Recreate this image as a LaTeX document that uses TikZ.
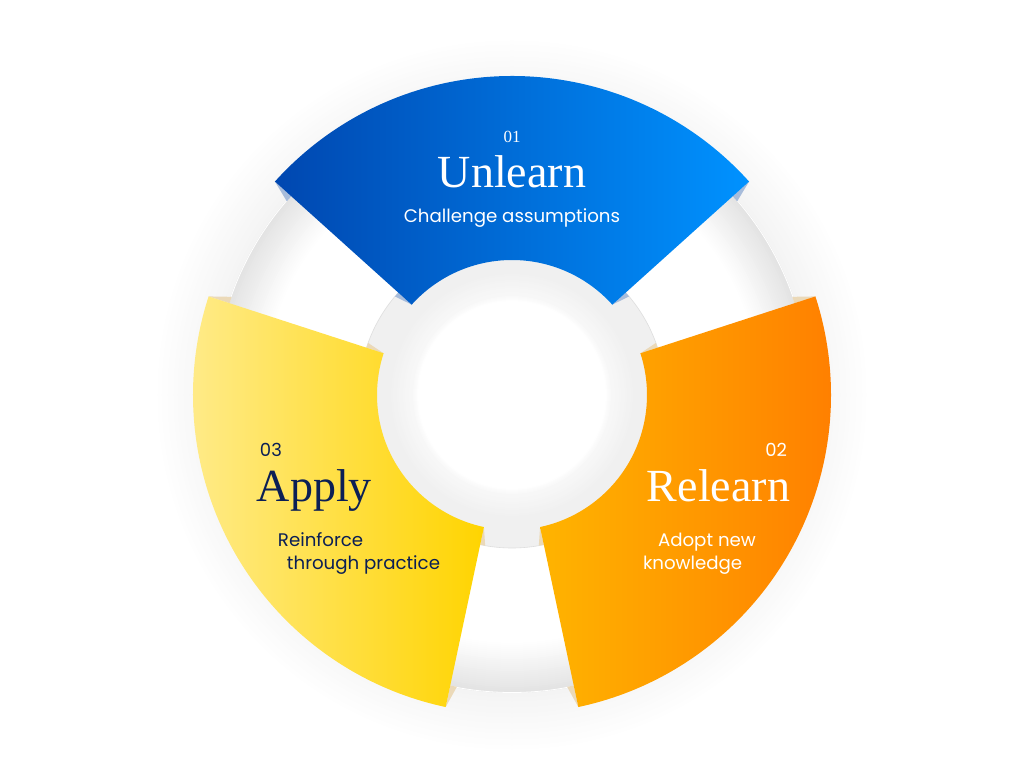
\documentclass[tikz,border=0pt]{standalone}
\usepackage{fontspec}
\setmainfont{Liberation Serif}
\newfontfamily\sansf{Poppins}
\newfontfamily\seriff{Liberation Serif}
\definecolor{blueL}{HTML}{0047B0}
\definecolor{blueR}{HTML}{0092FF}
\definecolor{orL}{HTML}{FFB400}
\definecolor{orR}{HTML}{FF7F00}
\definecolor{yeL}{HTML}{FFEC90}
\definecolor{yeR}{HTML}{FFD400}
\definecolor{navy}{HTML}{0B1F55}
\definecolor{bsliver}{HTML}{A7BCDB}
\definecolor{ysliver}{HTML}{EBD9B8}
\tikzset{
  lbl/.style={inner sep=0pt, outer sep=0pt},
  numtxt/.style={lbl, font=\sansf\fontsize{18}{18}\selectfont},
  titletxt/.style={lbl, font=\seriff\fontsize{46}{46}\selectfont},
  subtxt/.style={lbl, font=\sansf\fontsize{18.2}{18.2}\selectfont},
}
\newcommand{\segpath}[2]{(#1:319) arc[start angle=#1, end angle=#2, radius=319] -- (#2:135) arc[start angle=#2, end angle=#1, radius=135] -- cycle}
\newcommand{\slivers}[3]{%
  \fill[#3] (#1:319) -- (#1:297) -- ({#1-1.3}:297) -- cycle;
  \fill[#3] (#2:319) -- (#2:297) -- ({#2+1.3}:297) -- cycle;
  \fill[#3] (#1:135) -- (#1:153) -- ({#1-1.9}:153) -- cycle;
  \fill[#3] (#2:135) -- (#2:153) -- ({#2+1.9}:153) -- cycle;
}
\begin{document}
\begin{tikzpicture}[x=1pt,y=1pt]
\useasboundingbox (-512,-388) rectangle (512,395);
\fill[white] (-512,-388) rectangle (512,395);
% soft halo
\foreach \i in {0,...,29} {
  \pgfmathsetmacro\r{358-2*\i}
  \pgfmathsetmacro\p{\i*0.15}
  \fill[black!\p] (0,0) circle (\r);
}
% band (3D ring piece)
\foreach \i in {0,...,24} {
  \pgfmathsetmacro\r{298-2*\i}
  \pgfmathsetmacro\p{11-\i*0.45}
  \fill[black!\p] (0,0) circle (\r);
}
\fill[white] (0,0) circle (248);
\draw[white, line width=0.8pt] (0,0) circle (297.5);
% inner ring
\fill[black!6] (0,0) circle (153);
\draw[black!13, line width=0.6pt] (0,0) circle (153);
\foreach \i in {0,...,12} {
  \pgfmathsetmacro\r{125-2*\i}
  \pgfmathsetmacro\p{6-\i*0.25}
  \fill[black!\p] (0,0) circle (\r);
}
\foreach \i in {0,...,6} {
  \pgfmathsetmacro\r{100-1*\i}
  \pgfmathsetmacro\p{3-\i*0.5}
  \fill[black!\p] (0,0) circle (\r);
}
\fill[white] (0,0) circle (93);
% slivers
\slivers{42}{138}{bsliver}
\slivers{162}{258}{ysliver}
\slivers{282}{378}{ysliver}
% segments
\path[left color=blueL, right color=blueR] \segpath{42}{138};
\path[left color=yeL, right color=yeR] \segpath{162}{258};
\path[left color=orL, right color=orR] \segpath{282}{378};
% texts: Unlearn
\node[lbl, anchor=base, text=white, font=\seriff\fontsize{17}{17}\selectfont] (n1) at (0,252) {01};
\node[titletxt, anchor=base, text=white] (t1) at (0,207) {Unlearn};
\node[subtxt, anchor=base, text=white] (s1) at (0,172) {Challenge assumptions};
% Apply
\node[numtxt, anchor=base west, text=navy] (n3) at (-252,-62) {03};
\node[titletxt, anchor=base west, text=navy] (t3) at (-255,-107) {Apply};
\node[subtxt, anchor=base west, text=navy] (s3a) at (-234,-152) {Reinforce};
\node[subtxt, anchor=base west, text=navy] (s3b) at (-225,-175) {through practice};
% Relearn
\node[numtxt, anchor=base east, text=white] (n2) at (275,-62) {02};
\node[titletxt, anchor=base east, text=white] (t2) at (278,-107) {Relearn};
\node[subtxt, anchor=base west, text=white] (s2a) at (146,-152) {Adopt new};
\node[subtxt, anchor=base west, text=white] (s2b) at (131,-175) {knowledge};
\end{tikzpicture}
\end{document}
